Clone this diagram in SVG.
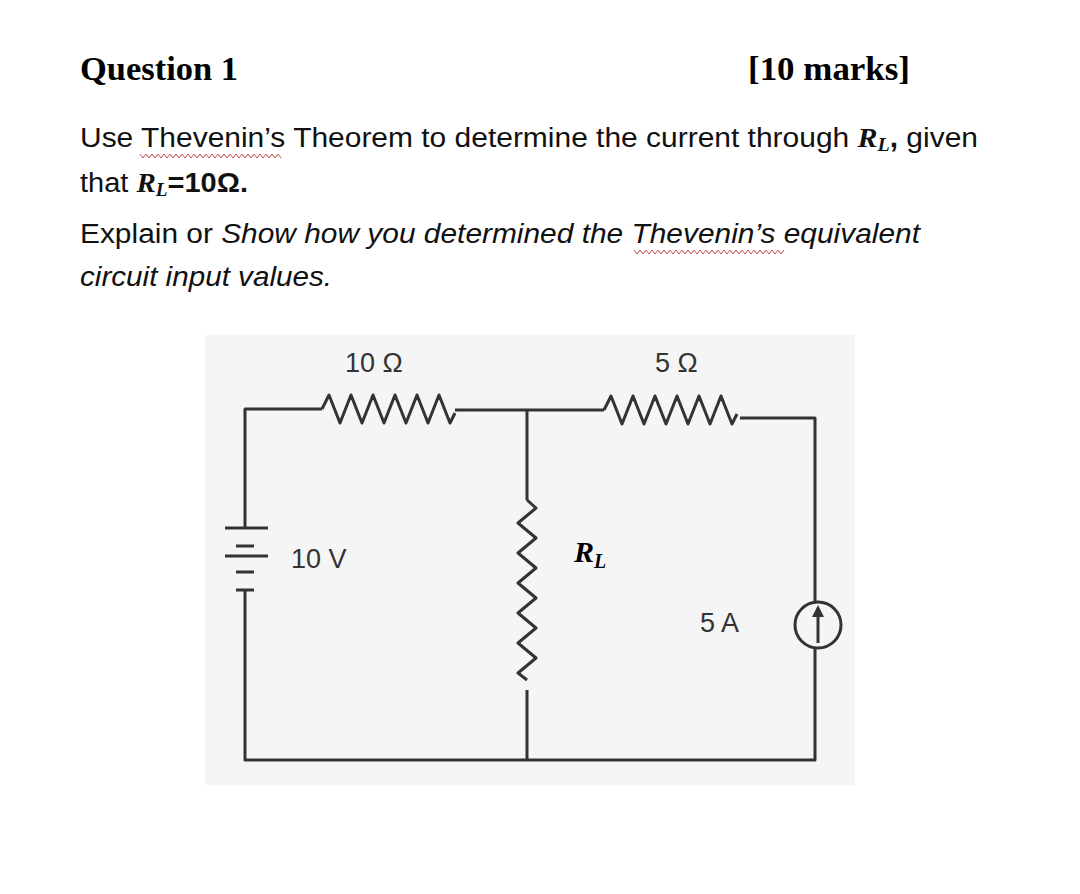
<svg xmlns="http://www.w3.org/2000/svg" width="1080" height="894" viewBox="0 0 1080 894">
<style>
.w{fill:none;stroke:#333;stroke-width:3;stroke-linejoin:round}
.h{font-family:"Liberation Serif",serif;font-weight:bold;font-size:33px}
.t{font-family:"Liberation Sans",sans-serif;font-size:27px;fill:#111}
.c{font-family:"Liberation Sans Narrow","Liberation Sans",sans-serif;font-size:27px;fill:#333}
.sq{fill:none;stroke:#c0504d;stroke-width:1}
</style>
<rect width="1080" height="894" fill="#fff"/>
<text class="h" x="80" y="80" textLength="158" lengthAdjust="spacingAndGlyphs">Question 1</text>
<text class="h" x="748" y="80" textLength="162" lengthAdjust="spacingAndGlyphs">[10 marks]</text>
<text class="t" x="80" y="147" textLength="898" lengthAdjust="spacingAndGlyphs">Use Thevenin’s Theorem to determine the current through <tspan font-family="Liberation Serif" font-weight="bold" font-style="italic">R<tspan font-size="18" dy="4">L</tspan></tspan><tspan dy="-4" font-weight="bold">,</tspan> given</text>
<text class="t" x="80" y="192" textLength="168" lengthAdjust="spacingAndGlyphs">that <tspan font-family="Liberation Serif" font-weight="bold" font-style="italic">R<tspan font-size="18" dy="4">L</tspan></tspan><tspan dy="-4" font-weight="bold">=10Ω.</tspan></text>
<text class="t" x="80" y="243" textLength="840" lengthAdjust="spacingAndGlyphs">Explain or <tspan font-style="italic">Show how you determined the Thevenin’s equivalent</tspan></text>
<text class="t" x="80" y="286" font-style="italic" textLength="252" lengthAdjust="spacingAndGlyphs">circuit input values.</text>
<path class="sq" d="M140 154 l3 4 l3 -4 l3 4 l3 -4 l3 4 l3 -4 l3 4 l3 -4 l3 4 l3 -4 l3 4 l3 -4 l3 4 l3 -4 l3 4 l3 -4 l3 4 l3 -4 l3 4 l3 -4 l3 4 l3 -4 l3 4 l3 -4 l3 4 l3 -4 l3 4 l3 -4 l3 4 l3 -4 l3 4 l3 -4 l3 4 l3 -4 l3 4 l3 -4 l3 4 l3 -4 l3 4 l3 -4 l3 4 l3 -4 l3 4 l3 -4 l3 4 l3 -4 l3 4"/>
<path class="sq" d="M634 250 l3 4 l3 -4 l3 4 l3 -4 l3 4 l3 -4 l3 4 l3 -4 l3 4 l3 -4 l3 4 l3 -4 l3 4 l3 -4 l3 4 l3 -4 l3 4 l3 -4 l3 4 l3 -4 l3 4 l3 -4 l3 4 l3 -4 l3 4 l3 -4 l3 4 l3 -4 l3 4 l3 -4 l3 4 l3 -4 l3 4 l3 -4 l3 4 l3 -4 l3 4 l3 -4 l3 4 l3 -4 l3 4 l3 -4 l3 4 l3 -4 l3 4 l3 -4 l3 4 l3 -4 l3 4 l3 -4"/>
<rect x="205" y="335" width="650" height="450" fill="#f5f5f5"/>
<g id="connectors">
<path class="w" d="M322 409 H245 V528"/>
<path class="w" d="M245 590 V760 H815 V648"/>
<path class="w" d="M455 410 H604"/>
<path class="w" d="M740 418 H815 V602"/>
<path class="w" d="M527 410 V500"/>
<path class="w" d="M527 690 V760"/>
</g>
<g id="r10">
<path class="w" d="M322 409 l7 -14 l11 28 l11 -28 l11 28 l11 -28 l11 28 l11 -28 l11 28 l11 -28 l11 28 l11 -28 l11 28 l5 -10"/>
<text class="c" x="345" y="372">10 Ω</text>
</g>
<g id="r5">
<path class="w" d="M604 410 l7 -14 l11 28 l11 -28 l11 28 l11 -28 l11 28 l11 -28 l11 28 l11 -28 l11 28 l11 -28 l11 28 l5 -10"/>
<text class="c" x="655" y="372">5 Ω</text>
</g>
<g id="rl">
<path class="w" d="M527 500 l9 8 l-18 15 l18 15 l-18 15 l18 15 l-18 15 l18 15 l-18 15 l18 15 l-18 15 l18 15 l-18 15 l9 7"/>
<text x="574" y="562" font-family="Liberation Serif" font-weight="bold" font-style="italic" font-size="30">R<tspan font-size="20" dy="6">L</tspan></text>
</g>
<g id="battery">
<path class="w" d="M225 528 H268 M225 556 H268"/>
<path class="w" d="M236 546 H254 M236 572 H254 M236 590 H254" stroke-width="4"/>
<text class="c" x="291" y="568">10 V</text>
</g>
<g id="source">
<circle class="w" cx="818" cy="625" r="23"/>
<path class="w" d="M818 643 V612"/>
<path d="M812 617 L818 605 L824 617 Z" fill="#333"/>
<text class="c" x="700" y="632">5 A</text>
</g>
</svg>
